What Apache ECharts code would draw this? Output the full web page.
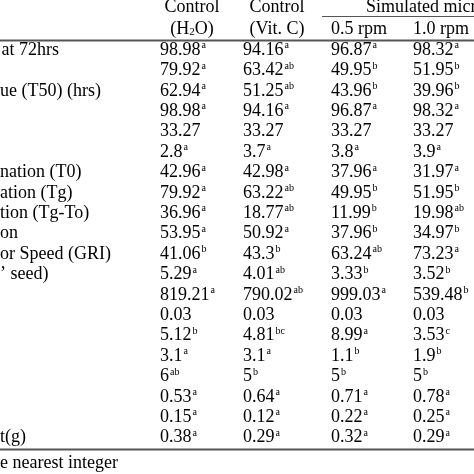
<!DOCTYPE html>
<html><head><meta charset="utf-8">
<script src="https://cdn.jsdelivr.net/npm/echarts@6/dist/echarts.min.js"></script>
<style>html,body{margin:0;padding:0;background:#fff}#c{width:474px;height:474px}</style>
</head><body><div id="c"></div>
<script>
// row labels (left part of the table is cut off in the source)
const rowLabels = [" at 72hrs", "", "ue (T50) (hrs)", "", "", "", "nation (T0)", "ation (Tg)",
  "tion (Tg-To)", "on", "or Speed (GRI)", "ʼ seed)", "", "", "", "", "", "", "", "t(g)"];
const colH2O = ["98.98|a","79.92|a","62.94|a","98.98|a","33.27|","2.8|a","42.96|a","79.92|a","36.96|a","53.95|a","41.06|b","5.29|a","819.21|a","0.03|","5.12|b","3.1|a","6|ab","0.53|a","0.15|a","0.38|a"];
const colVitC = ["94.16|a","63.42|ab","51.25|ab","94.16|a","33.27|","3.7|a","42.98|a","63.22|ab","18.77|ab","50.92|a","43.3|b","4.01|ab","790.02|ab","0.03|","4.81|bc","3.1|a","5|b","0.64|a","0.12|a","0.29|a"];
const col05 = ["96.87|a","49.95|b","43.96|b","96.87|a","33.27|","3.8|a","37.96|a","49.95|b","11.99|b","37.96|b","63.24|ab","3.33|b","999.03|a","0.03|","8.99|a","1.1|b","5|b","0.71|a","0.22|a","0.32|a"];
const col10 = ["98.32|a","51.95|b","39.96|b","98.32|a","33.27|","3.9|a","31.97|a","51.95|b","19.98|ab","34.97|b","73.23|a","3.52|b","539.48|b","0.03|","3.53|c","1.9|b","5|b","0.78|a","0.25|a","0.29|a"];
const footnote = "e nearest integer";

const font = "Liberation Serif";
const rich = {
  v: { fontFamily: font, fontSize: 18, fill: "#000" },
  s: { fontFamily: font, fontSize: 10, fill: "#000", verticalAlign: "top", padding: [0, 0, 9, 1] }
};
const els = [];
const rowY = i => 50 + i * 20.4;
function txt(x, y, text, align) {
  els.push({ type: "text", x, y, style: { text, fontFamily: font, fontSize: 18, fill: "#000", align: align || "left", verticalAlign: "middle" } });
}
function line(x1, y1, x2, y2, w) {
  els.push({ type: "line", shape: { x1, y1, x2, y2 }, style: { stroke: "#555", lineWidth: w } });
}
// headers
txt(192, 7, "Control", "center");
txt(277, 7, "Control", "center");
txt(366, 7, "Simulated micro", "left");
els.push({ type: "text", x: 192, y: 29, style: { text: "{v|(H}{b|2}{v|O)}", align: "center", verticalAlign: "middle",
  rich: { v: rich.v, b: { fontFamily: font, fontSize: 11, fill: "#000", padding: [7, 0, 0, 0] } } } });
txt(277, 29, "(Vit. C)", "center");
txt(331, 29, "0.5 rpm", "left");
txt(413, 29, "1.0 rpm", "left");
line(322, 16.5, 474, 16.5, 1);
line(0, 40.5, 474, 40.5, 2);
line(0, 449.5, 474, 449.5, 2);

rowLabels.forEach((l, i) => { if (l) txt(l.startsWith(" ") ? -3 : 0, rowY(i), l); });
[[colH2O, 160], [colVitC, 243], [col05, 331], [col10, 413]].forEach(([col, x]) => {
  col.forEach((c, i) => {
    const [v, s] = c.split("|");
    els.push({ type: "text", x, y: rowY(i), style: { text: "{v|" + v + "}" + (s ? "{s|" + s + "}" : ""), rich, verticalAlign: "middle" } });
  });
});
txt(0, 463, footnote);

const chart = echarts.init(document.getElementById("c"));
chart.setOption({ animation: false, graphic: { elements: els } });
</script></body></html>
